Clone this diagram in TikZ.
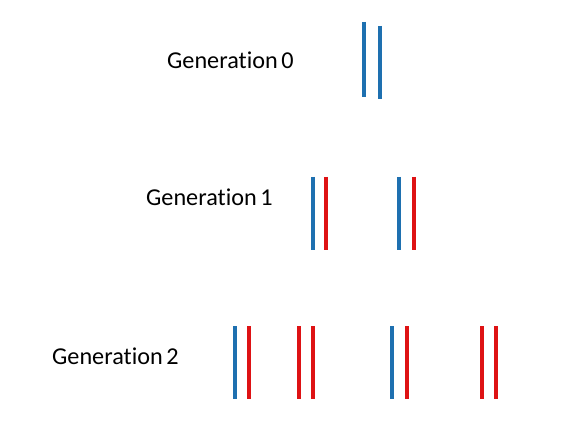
\documentclass[tikz,border=0pt]{standalone}
\usepackage{fontspec}
\setmainfont{Carlito}[Ligatures={NoCommon,NoRare,NoContextual},WordSpace=0.65]
\definecolor{chromblue}{RGB}{30,112,176}
\definecolor{chromred}{RGB}{222,18,20}
\begin{document}
\begin{tikzpicture}[x=1bp,y=-1bp,
  chrom/.style={line width=4bp},
  blue chrom/.style={chrom,draw=chromblue},
  red chrom/.style={chrom,draw=chromred},
  genlabel/.style={font=\fontsize{24.3}{27}\selectfont,inner sep=0pt,anchor=west}]
\useasboundingbox[fill=white] (0,0) rectangle (562,440);
% labels
\node[genlabel] (g0) at (167,60) {Generation 0};
\node[genlabel] (g1) at (146,197) {Generation 1};
\node[genlabel] (g2) at (52,356) {Generation 2};
% generation 0
\coordinate (a1t) at (364,22); \coordinate (a1b) at (364,97);
\coordinate (a2t) at (380,26); \coordinate (a2b) at (380,99);
\draw[blue chrom] (a1t) -- (a1b);
\draw[blue chrom] (a2t) -- (a2b);
% generation 1
\foreach \x/\s in {313/blue,326/red,399/blue,414/red}{
  \coordinate (b\x t) at (\x,177); \coordinate (b\x b) at (\x,250);
  \draw[\s\space chrom] (b\x t) -- (b\x b);
}
% generation 2
\foreach \x/\s in {235/blue,249/red,299/red,313/red,392/blue,407/red,482/red,496/red}{
  \coordinate (c\x t) at (\x,326); \coordinate (c\x b) at (\x,399);
  \draw[\s\space chrom] (c\x t) -- (c\x b);
}
\end{tikzpicture}
\end{document}
